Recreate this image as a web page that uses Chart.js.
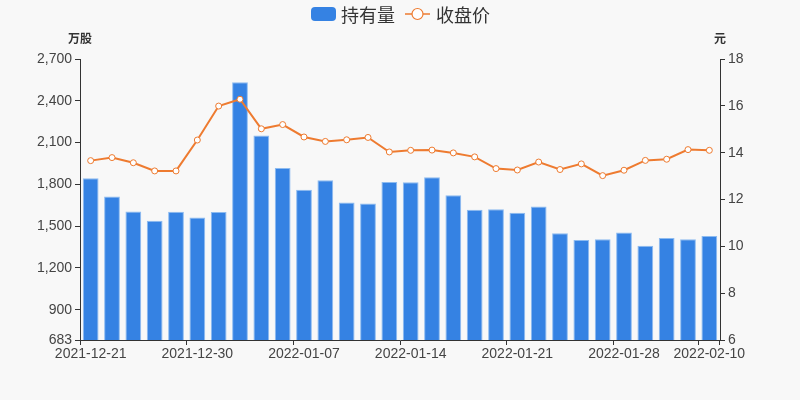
<!DOCTYPE html>
<html>
<head>
<meta charset="utf-8">
<script src="https://cdn.jsdelivr.net/npm/chart.js@4/dist/chart.umd.min.js"></script>
<style>
html,body{margin:0;padding:0;background:#f8f8f8;}
canvas{display:block;}
</style>
</head>
<body>
<canvas id="c" width="800" height="400"></canvas>
<script>
const categories = ["2021-12-21","2021-12-22","2021-12-23","2021-12-24","2021-12-28","2021-12-30","2021-12-31","2022-01-04","2022-01-05","2022-01-06","2022-01-07","2022-01-10","2022-01-11","2022-01-12","2022-01-13","2022-01-14","2022-01-17","2022-01-18","2022-01-19","2022-01-20","2022-01-21","2022-01-24","2022-01-25","2022-01-26","2022-01-27","2022-01-28","2022-02-07","2022-02-08","2022-02-09","2022-02-10"];
const holdings = [1844,1713,1606,1539,1603,1563,1601,2533,2151,1918,1761,1830,1670,1663,1818,1815,1851,1722,1618,1622,1596,1641,1450,1400,1407,1455,1360,1415,1407,1429];
const closePrice = [13.66,13.79,13.57,13.22,13.22,14.54,15.99,16.28,15.02,15.2,14.67,14.48,14.55,14.65,14.03,14.1,14.11,13.99,13.82,13.32,13.26,13.6,13.28,13.52,13.02,13.25,13.67,13.72,14.13,14.1];
const leftTicks = [683,900,1200,1500,1800,2100,2400,2700];
const rightTicks = [6,8,10,12,14,16,18];
const seriesNames = ["持有量","收盘价"];
const axisUnits = ["万股","元"];

const BLUE = '#3582e3';
const ORANGE = '#ee7b30';
const AXIS = '#333';
const TEXT = '#444';
const labelShown = i => (i % 5 === 0 || i === categories.length - 1);

const bgPlugin = {
  id: 'bg',
  beforeDraw(chart) {
    const ctx = chart.ctx;
    ctx.save();
    ctx.fillStyle = '#f8f8f8';
    ctx.fillRect(0, 0, chart.width, chart.height);
    ctx.restore();
  }
};

const extrasPlugin = {
  id: 'extras',
  afterDraw(chart) {
    const ctx = chart.ctx;
    ctx.save();
    // axis unit titles
    ctx.fillStyle = AXIS;
    ctx.font = 'bold 12px "Noto Sans CJK SC", sans-serif';
    ctx.textAlign = 'center';
    ctx.textBaseline = 'middle';
    ctx.fillText(axisUnits[0], chart.scales.y.right, 38);
    ctx.fillText(axisUnits[1], chart.scales.y1.left, 38);
    // legend
    const cy = 14;
    ctx.font = '18px "Noto Sans CJK SC", sans-serif';
    ctx.textAlign = 'left';
    ctx.fillStyle = BLUE;
    const rx = 311, ry = 7, rw = 25, rh = 14, r = 4;
    ctx.beginPath();
    ctx.moveTo(rx + r, ry);
    ctx.arcTo(rx + rw, ry, rx + rw, ry + rh, r);
    ctx.arcTo(rx + rw, ry + rh, rx, ry + rh, r);
    ctx.arcTo(rx, ry + rh, rx, ry, r);
    ctx.arcTo(rx, ry, rx + rw, ry, r);
    ctx.closePath();
    ctx.fill();
    ctx.fillStyle = '#333';
    ctx.fillText(seriesNames[0], 341, cy + 1);
    ctx.strokeStyle = ORANGE;
    ctx.lineWidth = 1.5;
    ctx.beginPath();
    ctx.moveTo(405, cy); ctx.lineTo(430, cy);
    ctx.stroke();
    ctx.beginPath();
    ctx.arc(417.5, cy, 5.5, 0, Math.PI * 2);
    ctx.fillStyle = '#fff';
    ctx.fill();
    ctx.lineWidth = 1.2;
    ctx.stroke();
    ctx.fillStyle = '#333';
    ctx.fillText(seriesNames[1], 436, cy + 1);
    ctx.restore();
  }
};

new Chart(document.getElementById('c'), {
  data: {
    labels: categories,
    datasets: [
      {
        type: 'line',
        label: seriesNames[1],
        data: closePrice,
        yAxisID: 'y1',
        borderColor: ORANGE,
        borderWidth: 2,
        pointRadius: 3,
        pointBackgroundColor: '#fff',
        pointBorderColor: ORANGE,
        pointBorderWidth: 1,
        tension: 0,
        order: 0
      },
      {
        type: 'bar',
        label: seriesNames[0],
        data: holdings,
        yAxisID: 'y',
        backgroundColor: BLUE,
        borderColor: '#8dbbf0',
        borderWidth: 1,
        barPercentage: 0.74,
        categoryPercentage: 1,
        order: 1
      }
    ]
  },
  options: {
    responsive: false,
    animation: false,
    layout: { padding: { top: 59, left: 0, right: 0, bottom: 0 } },
    plugins: { legend: { display: false }, tooltip: { enabled: false } },
    scales: {
      x: {
        type: 'category',
        offset: true,
        afterFit(s) { s.height = 60; },
        grid: {
          offset: true,
          drawOnChartArea: false,
          tickLength: 5,
          tickColor: ctx => (ctx.type !== 'tick' || ctx.index === undefined || labelShown(ctx.index)) ? AXIS : 'rgba(0,0,0,0)'
        },
        border: { color: AXIS, width: 1 },
        ticks: {
          autoSkip: false,
          maxRotation: 0,
          minRotation: 0,
          padding: 1,
          color: TEXT,
          font: { family: '"Liberation Sans", Arial, sans-serif', size: 14 },
          callback: (v, i) => labelShown(i) ? categories[i] : ''
        }
      },
      y: {
        type: 'linear',
        position: 'left',
        min: leftTicks[0],
        max: leftTicks[leftTicks.length - 1],
        afterBuildTicks(s) { s.ticks = leftTicks.map(v => ({ value: v })); },
        afterFit(s) { s.width = 80; },
        grid: { drawOnChartArea: false, tickLength: 5, tickColor: AXIS },
        border: { color: AXIS, width: 1 },
        ticks: {
          padding: 3,
          color: TEXT,
          font: { family: '"Liberation Sans", Arial, sans-serif', size: 14 },
          callback: v => Number(v).toLocaleString('en-US')
        }
      },
      y1: {
        type: 'linear',
        position: 'right',
        min: rightTicks[0],
        max: rightTicks[rightTicks.length - 1],
        afterBuildTicks(s) { s.ticks = rightTicks.map(v => ({ value: v })); },
        afterFit(s) { s.width = 80; },
        grid: { drawOnChartArea: false, tickLength: 5, tickColor: AXIS },
        border: { color: AXIS, width: 1 },
        ticks: {
          padding: 3,
          color: TEXT,
          font: { family: '"Liberation Sans", Arial, sans-serif', size: 14 },
          callback: v => String(v)
        }
      }
    }
  },
  plugins: [bgPlugin, extrasPlugin]
});
</script>
</body>
</html>
